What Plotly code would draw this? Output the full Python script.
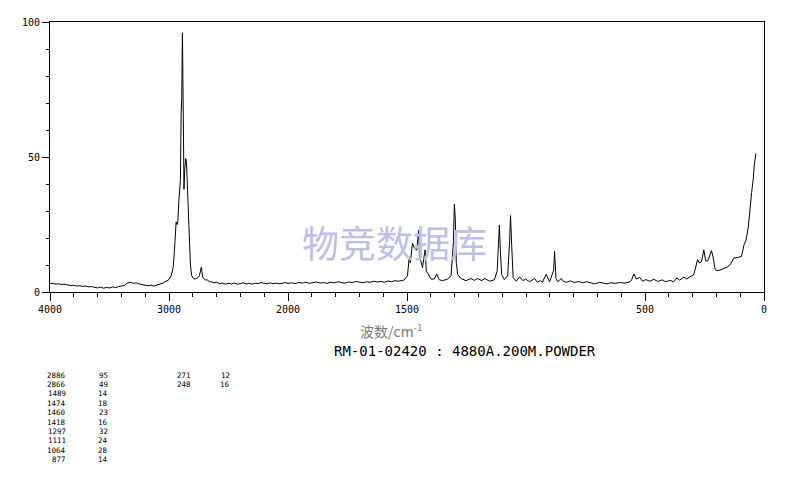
import plotly.graph_objects as go

# ---------------- data ----------------
wavenumber = [
    4000, 3975, 3950, 3925, 3900, 3875, 3850, 3825, 3800, 3775, 3750, 3725, 3700, 3675,
    3650, 3625, 3600, 3575, 3550, 3525, 3500, 3475, 3450, 3425, 3400, 3375, 3350, 3325,
    3300, 3275, 3250, 3225, 3200, 3175, 3150, 3125, 3100, 3075, 3050, 3025, 3000, 2982,
    2965, 2955, 2948, 2940, 2932, 2926, 2918, 2904, 2898, 2893, 2887, 2881, 2874, 2868,
    2860, 2853, 2845, 2835, 2828, 2820, 2809, 2795, 2780, 2760, 2745, 2735, 2728, 2722,
    2717, 2705, 2690, 2678, 2660, 2650, 2625, 2600, 2575, 2550, 2525, 2500, 2475, 2450,
    2425, 2400, 2375, 2350, 2325, 2300, 2275, 2250, 2225, 2200, 2175, 2150, 2125, 2100,
    2075, 2050, 2025, 2000, 1985, 1970, 1955, 1940, 1925, 1910, 1895, 1880, 1865, 1850,
    1835, 1820, 1805, 1790, 1775, 1760, 1745, 1730, 1715, 1700, 1685, 1670, 1655, 1640,
    1625, 1610, 1595, 1580, 1565, 1550, 1535, 1520, 1512, 1498, 1491, 1486, 1481, 1477,
    1469, 1459, 1451, 1447, 1441, 1435, 1424, 1419, 1413, 1399, 1385, 1375, 1364, 1350,
    1329, 1315, 1305, 1301, 1297, 1293, 1287, 1273, 1252, 1231, 1217, 1203, 1186, 1172,
    1154, 1133, 1121, 1116, 1112, 1107, 1102, 1091, 1077, 1069, 1065, 1060, 1054, 1041,
    1027, 1013, 1002, 985, 964, 952, 939, 931, 915, 901, 884, 880, 874, 866,
    859, 852, 842, 830, 813, 796, 779, 762, 745, 728, 712, 691, 674, 661,
    644, 627, 606, 585, 564, 556, 547, 536, 522, 510, 497, 480, 463, 446,
    429, 413, 396, 379, 366, 354, 337, 324, 312, 296, 289, 279, 271, 263,
    253, 245, 236, 221, 214, 206, 197, 185, 164, 155, 143, 126, 108, 94,
    84, 76, 66, 59, 52, 45, 41, 34,
]
intensity = [
    3.1, 3.2, 2.9, 3.0, 2.8, 2.9, 2.6, 2.4, 2.5, 2.2, 2.3, 2.1, 2.2, 1.9,
    2.0, 1.7, 1.5, 1.8, 1.4, 1.7, 1.5, 1.9, 1.6, 2.0, 2.1, 2.4, 3.3, 3.6,
    3.2, 3.4, 3.0, 2.8, 2.5, 2.3, 2.5, 2.2, 2.6, 2.9, 3.3, 4.0, 4.6, 6.0,
    9.0, 15.0, 23.5, 26.0, 25.0, 26.0, 33.0, 41.6, 66.0, 72.0, 96.0, 52.0, 38.0, 45.0,
    49.5, 48.0, 38.0, 28.0, 21.0, 10.0, 6.0, 5.0, 4.8, 5.2, 6.0, 7.5, 9.2, 7.0,
    5.5, 4.8, 4.4, 4.5, 3.8, 3.9, 3.4, 3.6, 3.1, 3.3, 2.9, 3.2, 3.0, 3.3,
    2.9, 3.1, 3.4, 3.0, 3.2, 2.9, 3.3, 3.1, 3.5, 3.2, 3.0, 3.4, 3.1, 3.3,
    3.0, 3.2, 3.5, 3.2, 3.4, 3.1, 3.5, 3.3, 3.6, 3.2, 3.4, 3.7, 3.3, 3.5,
    3.2, 3.6, 3.4, 3.8, 3.5, 3.3, 3.7, 3.5, 3.9, 3.6, 3.4, 3.8, 3.6, 4.0,
    3.7, 3.9, 3.6, 4.1, 3.8, 4.2, 4.0, 4.3, 4.4, 6.0, 12.6, 10.8, 14.4, 18.0,
    16.2, 15.5, 22.8, 12.0, 11.5, 9.0, 15.6, 7.8, 7.0, 4.8, 4.8, 6.6, 4.5, 4.2,
    4.8, 6.0, 18.6, 32.5, 27.0, 11.0, 6.5, 5.0, 4.2, 5.0, 4.3, 5.0, 4.2, 5.0,
    4.0, 4.5, 7.8, 18.6, 24.8, 14.0, 6.4, 4.6, 6.0, 18.6, 28.3, 17.0, 5.4, 4.0,
    5.6, 4.2, 4.8, 3.8, 5.0, 3.6, 4.2, 3.6, 6.6, 3.8, 8.0, 15.0, 5.0, 3.8,
    4.6, 5.0, 3.9, 3.6, 4.1, 3.5, 3.9, 3.4, 3.8, 3.4, 3.0, 3.6, 3.2, 3.0,
    3.4, 3.2, 3.5, 3.3, 3.7, 4.5, 6.7, 4.8, 5.4, 4.0, 4.6, 4.0, 4.7, 3.9,
    4.5, 3.8, 4.3, 3.8, 5.2, 4.4, 5.5, 4.8, 5.6, 6.3, 8.5, 12.0, 10.7, 11.2,
    15.6, 11.5, 11.5, 15.3, 13.0, 8.4, 7.9, 8.1, 8.9, 9.2, 10.0, 12.6, 12.8, 13.3,
    17.5, 19.0, 24.0, 32.0, 36.8, 42.0, 47.0, 51.3,
]

x_tick_values = [4000, 3000, 2000, 1500, 500, 0]
x_tick_labels = ["4000", "3000", "2000", "1500", "500", "0"]
y_tick_values = [0, 50, 100]
y_tick_labels = ["0", "50", "100"]

peak_positions = ["2886", "2866", "1489", "1474", "1460", "1418", "1297", "1111", "1064", "877",
                  "271", "248"]
peak_heights = ["95", "49", "14", "18", "23", "16", "32", "24", "28", "14",
                "12", "16"]

x_title = "波数/cm<sup>-1</sup>"
sample_title = "RM-01-02420 : 4880A.200M.POWDER"
watermark = "物竞数据库"


# the x axis is compressed 2:1 above 2000 cm-1
def to_axis(w):
    return w if w <= 2000 else 2000 + (w - 2000) / 2


# page has an 8px body margin: lay the figure out in page pixels minus that offset
OFF = 8
W, H = 794 - 2 * OFF, 482 - 2 * OFF
L, R, T, B = 50, 764, 16, 292          # plot box in page pixels


def px(xp):
    return (xp - L) / (R - L)


def py(yp):
    return (B - yp) / (B - T)


fig = go.Figure()
fig.add_trace(go.Scatter(
    x=[to_axis(w) for w in wavenumber], y=intensity, mode="lines",
    line=dict(color="black", width=1), hoverinfo="skip", showlegend=False,
))

mono = "DejaVu Sans Mono"
fig.update_layout(
    width=W, height=H, autosize=False,
    margin=dict(l=L - OFF, r=W - (R - OFF), t=T - OFF, b=H - (B - OFF), pad=0),
    paper_bgcolor="white", plot_bgcolor="white",
    xaxis=dict(
        range=[to_axis(4000), 0], tickmode="array",
        tickvals=[to_axis(v) for v in x_tick_values], ticktext=x_tick_labels,
        ticks="outside", ticklen=8, tickwidth=1, tickcolor="black",
        showline=True, linecolor="black", linewidth=1, mirror=True,
        showgrid=False, zeroline=False,
        tickfont=dict(family=mono, size=10, color="black"),
        minor=dict(tick0=0, dtick=100, ticks="outside", ticklen=4, tickwidth=1,
                   tickcolor="black", showgrid=False),
    ),
    yaxis=dict(
        range=[0, 100], tickmode="array", tickvals=y_tick_values, ticktext=y_tick_labels,
        ticks="outside", ticklen=7, tickwidth=1, tickcolor="black",
        showline=True, linecolor="black", linewidth=1, mirror=True,
        showgrid=False, zeroline=False,
        tickfont=dict(family=mono, size=10, color="black"),
        minor=dict(tick0=0, dtick=10, ticks="outside", ticklen=3, tickwidth=1,
                   tickcolor="black", showgrid=False),
    ),
)

# watermark
fig.add_annotation(x=px(394), y=py(241), xref="paper", yref="paper", text=watermark,
                   showarrow=False, xanchor="center", yanchor="middle",
                   font=dict(family="Noto Sans CJK SC", size=37, color="rgb(190,190,230)"))

# axis title and sample line
fig.add_annotation(x=px(391), y=py(331), xref="paper", yref="paper", text=x_title,
                   showarrow=False, xanchor="center", yanchor="middle",
                   font=dict(family="Noto Sans CJK SC", size=14, color="#7a7a7a"))
fig.add_annotation(x=px(465), y=py(352), xref="paper", yref="paper", text=sample_title,
                   showarrow=False, xanchor="center", yanchor="middle",
                   font=dict(family=mono, size=14, color="black"))

# peak table
row0, row_step = 377, 9.6
for i, (pos, hgt) in enumerate(zip(peak_positions, peak_heights)):
    col = 0 if i < 10 else 1
    r = i if i < 10 else i - 10
    yy = py(row0 + r * row_step)
    xr1, xr2 = (68, 110) if col == 0 else (193, 232)
    fig.add_annotation(x=px(xr1), y=yy, xref="paper", yref="paper", text=pos,
                       showarrow=False, xanchor="right", yanchor="middle",
                       font=dict(family=mono, size=7.5, color="black"))
    fig.add_annotation(x=px(xr2), y=yy, xref="paper", yref="paper", text=hgt,
                       showarrow=False, xanchor="right", yanchor="middle",
                       font=dict(family=mono, size=7.5, color="black"))

fig.write_html("out.html")
